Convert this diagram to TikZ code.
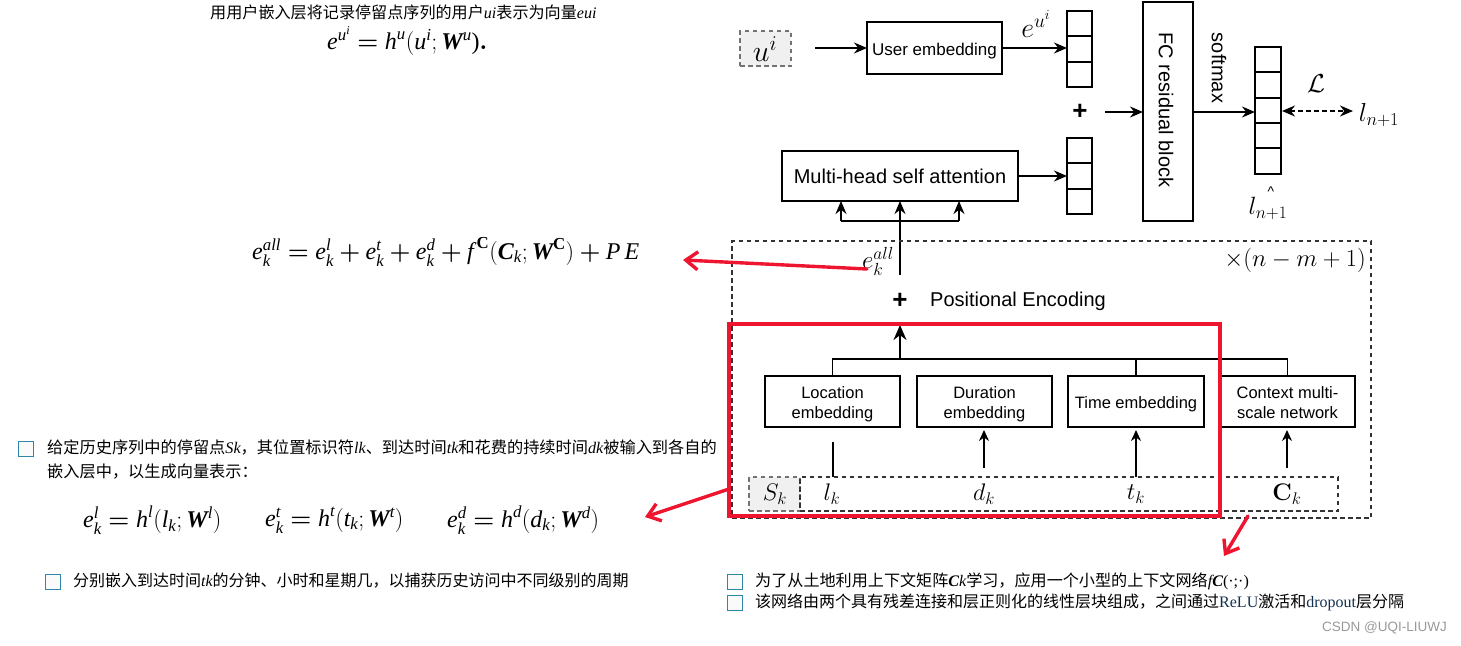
\RequirePackage{fix-cm}
\documentclass[tikz,border=0pt]{standalone}
\usepackage{amsmath}
\usepackage[no-math]{fontspec}
\setmainfont{Liberation Sans}
\newfontfamily\cjk{Noto Sans CJK SC}
\newfontfamily\tms{Liberation Serif}
\usetikzlibrary{arrows.meta}
\newcommand\fs[1]{\fontsize{#1}{#1}\selectfont}
\newcommand\ti[1]{\text{\tms\itshape #1}}
\newcommand\bi[1]{\text{\tms\bfseries\itshape #1}}
\newcommand\bu[1]{\text{\tms\bfseries #1}}
\newcommand\tr[1]{\text{\tms #1}}
\newcommand\pl{\mathbin{\boldsymbol{+}}}
\newcommand\eq{\mathrel{\boldsymbol{=}}}
\newcommand\lat[1]{{\tms\itshape #1}}
\newcommand\dn[1]{\raisebox{-2pt}[0.8em][0.2em]{#1}}
\definecolor{redm}{HTML}{EE1530}
\definecolor{chkc}{HTML}{2F86A6}
\definecolor{latb}{HTML}{12304F}
\tikzset{
  x=1pt,y=-1pt,
  nbox/.style={draw=black,line width=1.3pt,inner sep=0pt,outer sep=0pt,align=center,font=\fs{16.5},anchor=north west},
  cell/.style={draw=black,line width=1.3pt,inner sep=0pt,anchor=north west,minimum width=25pt,outer sep=0pt},
  divl/.style={draw=black,line width=1.3pt},
  arr/.style={draw=black,line width=1.6pt,-{Stealth[length=13pt,width=11pt]}},
  thinarr/.style={draw=black,line width=1.3pt,-{Stealth[length=11pt,width=10pt]}},
  conn/.style={draw=black,line width=1.2pt},
  dbox/.style={draw=black!80,line width=1.3pt,dash pattern=on 4.5pt off 3.5pt,inner sep=0pt,outer sep=0pt,anchor=north west},
  gbox/.style={dbox,draw=black!55,fill=black!6},
  redarr/.style={draw=redm,line width=3.4pt,line cap=round,-{Straight Barb[length=12pt,width=18pt,line width=3.4pt]}},
  zh/.style={inner sep=0pt,anchor=west,align=left,font=\cjk\fs{16.1}},
  eqn/.style={inner sep=0pt,anchor=west,font=\fs{24}},
  chk/.style={draw=chkc,line width=1pt,fill=black!2,inner sep=0pt,outer sep=0pt,minimum size=15pt,anchor=north west},
  cmt/.style={inner sep=0pt,font=\fs{24}},
}
\begin{document}
\begin{tikzpicture}
\useasboundingbox (0,0) rectangle (1461,645);
% --- left notes
\node[zh] (t1) at (210,12) {用用户嵌入层将记录停留点序列的用户\lat{ui}表示为向量\lat{eui}};
\node[eqn] (q1) at (327,41) {$\ti{e}^{\ti{u}^{\ti{i}}} \eq \ti{h}^{\ti{u}}(\ti{u}^{\ti{i}};\bi{W}^{\ti{u}}\tr{)}\boldsymbol{.}$};
\node[eqn] (q2) at (252,252) {$\ti{e}_{\ti{k}}^{\ti{all}} \eq \ti{e}_{\ti{k}}^{\ti{l}} \pl \ti{e}_{\ti{k}}^{\ti{t}} \pl \ti{e}_{\ti{k}}^{\ti{d}} \pl \ti{f}^{\,\bu{C}}(\bi{C}_{\ti{k}};\bi{W}^{\bu{C}}) \pl \ti{P\,E}$};
\node[chk] (c1) at (18,441) {};
\node[zh,anchor=north west,align=left,font=\cjk\fs{16.2}] (t2) at (47,440) {给定历史序列中的停留点\lat{Sk}，其位置标识符\lat{lk}、到达时间\lat{tk}和花费的持续时间\lat{dk}被输入到各自的\\[7pt]嵌入层中，以生成向量表示：};
\node[eqn] (q3) at (83,520) {$\ti{e}_{\ti{k}}^{\ti{l}} \eq \ti{h}^{\ti{l}}(\ti{l}_{\ti{k}};\bi{W}^{\ti{l}})$};
\node[eqn] (q4) at (265,520) {$\ti{e}_{\ti{k}}^{\ti{t}} \eq \ti{h}^{\ti{t}}(\ti{t}_{\ti{k}};\bi{W}^{\ti{t}})$};
\node[eqn] (q5) at (447,520) {$\ti{e}_{\ti{k}}^{\ti{d}} \eq \ti{h}^{\ti{d}}(\ti{d}_{\ti{k}};\bi{W}^{\ti{d}})$};
\node[chk] (c2) at (45,574) {};
\node[zh,font=\cjk\fs{16}] (t3) at (73,581) {分别嵌入到达时间\lat{tk}的分钟、小时和星期几，以捕获历史访问中不同级别的周期};
\node[chk] (c3) at (727,574) {};
\node[zh] (t4) at (755,581) {为了从土地利用上下文矩阵{\tms\bfseries\itshape C}\lat{k}学习，应用一个小型的上下文网络\lat{f}{\tms\bfseries\itshape C}{\tms (·;·)}};
\node[chk] (c4) at (727,595) {};
\node[zh,font=\cjk\fs{16}] (t5) at (755,602) {该网络由两个具有残差连接和层正则化的线性层块组成，之间通过{\tms\color{latb}ReLU}激活和{\tms\color{latb}dropout}层分隔};
\node[inner sep=0pt,anchor=east,text=black!40,font=\fs{13.5}] (wm) at (1447,628) {CSDN @UQI-LIUWJ};

% --- top part of the network
\node[gbox,minimum width=51pt,minimum height=35pt] (u) at (740,31) {};
\node[cmt,font=\fs{30}] (ul) at (765,49) {$u^i$};
\coordinate (uin) at (815,48);
\node[nbox,font=\fs{17},minimum width=135pt,minimum height=52pt] (ue) at (867,22) {\dn{User embedding}};
\node[cell,minimum height=76pt] (s1) at (1067,11) {};
\draw[divl] (1067,36) -- (1092,36) (1067,62) -- (1092,62);
\node[cell,minimum height=76pt] (s2) at (1067,138) {};
\draw[divl] (1067,163) -- (1092,163) (1067,189) -- (1092,189);
\node[cmt,font=\fs{28}] (eu) at (1036,24) {$e^{u^i}$};
\node[inner sep=0pt,font=\bfseries\fs{26}] (pl1) at (1080,112) {+};
\coordinate (pout) at (1105,112);
\node[nbox,minimum width=50pt,minimum height=219pt] (fc) at (1143,2) {};
\node[inner sep=0pt,rotate=-90,font=\fs{20}] (fcl) at (1166,110) {FC residual block};
\node[inner sep=0pt,rotate=-90,font=\fs{20}] (sm) at (1219,68) {softmax};
\node[cell,minimum width=26pt,minimum height=127pt] (s3) at (1255,47) {};
\draw[divl] (1255,72) -- (1281,72) (1255,98) -- (1281,98) (1255,123) -- (1281,123) (1255,148) -- (1281,148);
\node[cmt,font=\fs{26}] (ll) at (1316,84) {$\mathcal{L}$};
\node[cmt,font=\fs{26}] (ln) at (1379,115) {$l_{n+1}$};
\node[cmt,font=\fs{25}] (lh) at (1268,203) {\rlap{\raisebox{18pt}{\hspace{19pt}\fs{14}\^{}}}$l_{n+1}$};
\node[nbox,font=\fs{20},minimum width=236pt,minimum height=50pt] (mh) at (782,151) {Multi-head self attention};
\draw[arr] (uin) -- (ue.west |- uin);
\draw[arr] (ue.east |- uin) -- (s1.west |- uin);
\draw[arr] (pout) -- (fc.west |- pout);
\draw[arr] (fc.east |- pout) -- (s3.west |- pout);
\coordinate (da) at (1282,111);
\coordinate (db) at (1353,111);
\draw[line width=1.6pt,dash pattern=on 4.5pt off 3.5pt,{Stealth[length=13pt,width=11pt]}-{Stealth[length=13pt,width=11pt]}] (da) -- (db);
\draw[arr] (mh.east) -- (s2.west);
\coordinate (ma) at (900,275);
\coordinate (mj) at (900,221);
\coordinate (ml) at (841,221);
\coordinate (mr) at (959,221);
\draw[conn] (ml) -- (mr);
\draw[arr] (ma) -- (mh.south -| ma);
\draw[arr] (ml) -- (mh.south -| ml);
\draw[arr] (mr) -- (mh.south -| mr);

% --- repeated block
\node[dbox,minimum width=639pt,minimum height=277pt] (rep) at (732,241) {};
\node[cmt,font=\fs{24.5},anchor=east] (times) at (1366,260) {$\times(n-m+1)$};
\node[cmt,font=\fs{25}] (eall) at (878,261) {$e_k^{all}$};
\node[inner sep=0pt,font=\bfseries\fs{26}] (pl2) at (900,301) {+};
\node[inner sep=0pt,anchor=west,font=\fs{20}] (pe) at (930,301.5) {Positional Encoding};
\node[nbox,minimum width=135pt,minimum height=51pt] (loc) at (765,376) {\dn{Location}\\[4pt]\dn{embedding}};
\node[nbox,minimum width=135pt,minimum height=51pt] (dur) at (917,376) {\dn{Duration}\\[4pt]\dn{embedding}};
\node[nbox,minimum width=136pt,minimum height=51pt] (tim) at (1068,376) {\dn{Time embedding}};
\node[nbox,minimum width=135pt,minimum height=51pt] (ctx) at (1220,376) {\dn{Context multi-}\\[4pt]\dn{scale network}};
\coordinate (j) at (900,359);
\coordinate (jt) at (900,325);
\draw[conn] (loc.north) |- (j) -| (ctx.north);
\draw[conn] (tim.north) -- (tim.north |- j);
\draw[arr,line width=1.8pt,-{Stealth[length=15pt,width=13pt]}] (j) -- (jt);
\node[gbox,minimum width=51pt,minimum height=34pt] (sk) at (749,477) {};
\node[dbox,minimum width=538pt,minimum height=34pt] (row) at (800,477) {};
\node[cmt] (skl) at (775,494) {$S_k$};
\node[cmt] (lk) at (832,494) {$l_k$};
\node[cmt] (dk) at (984,494) {$d_k$};
\node[cmt] (tk) at (1136,494) {$t_k$};
\node[cmt] (ck) at (1287,494) {$\mathbf{C}_k$};
\coordinate (lk0) at (833,442);
\draw[conn] (lk0) -- (lk0 |- row.north);
\coordinate (d0) at (984,468);
\coordinate (c0) at (1287,468);
\coordinate (t0) at (1136,477);
\draw[thinarr] (d0) -- ([yshift=-3pt]dur.south -| d0);
\draw[thinarr] (t0) -- ([yshift=-3pt]tim.south -| t0);
\draw[thinarr] (c0) -- ([yshift=-3pt]ctx.south -| c0);

% --- red annotations
\node[draw=redm,line width=3.6pt,inner sep=0pt,outer sep=0pt,minimum width=491pt,minimum height=192pt,anchor=north west] (red) at (729,324) {};
\coordinate (r1a) at (867,269);
\coordinate (r1b) at (683,260);
\coordinate (r2a) at (729,489);
\coordinate (r2b) at (645,517);
\coordinate (r3a) at (1248,516);
\coordinate (r3b) at (1224,556);
\draw[redarr] (r1a) -- (r1b);
\draw[redarr] (r2a) -- (r2b);
\draw[redarr] (r3a) -- (r3b);
\end{tikzpicture}
\end{document}
